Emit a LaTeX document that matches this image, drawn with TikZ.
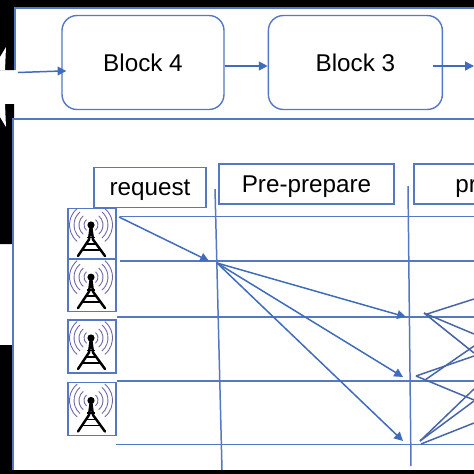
\documentclass[tikz,border=0pt]{standalone}
\usepackage{fontspec}
\setmainfont{Liberation Sans}
\usetikzlibrary{arrows.meta, positioning}
\definecolor{lineblue}{HTML}{5478C4}
\definecolor{tipblue}{HTML}{3F6CBC}
\definecolor{wavepurple}{HTML}{6F66A8}

\tikzset{
    radiotower/.pic={
        \fill[black] (-1,-8.5) circle (3.6);
        \draw[black, line width=1.4pt, line cap=round] (-1,-8.5) -- (-3,6) -- (-14,22.5);
        \draw[black, line width=1.4pt, line cap=round] (-1,-8.5) -- (1,6) -- (13,22.5);
        \draw[black, line width=1.1pt] (-5,4) -- (3,4);
        \draw[black, line width=1.1pt] (-7,10.5) -- (5,10.5);
        \draw[black, line width=1.1pt] (-10,16.5) -- (8,16.5);
        \draw[wavepurple, line width=0.5pt] (-1,-8.5) ++(130:7) arc[start angle=130, end angle=230, radius=7];
        \draw[wavepurple, line width=0.5pt] (-1,-8.5) ++(130:12) arc[start angle=130, end angle=230, radius=12];
        \draw[wavepurple, line width=0.5pt] (-1,-8.5) ++(130:17) arc[start angle=130, end angle=230, radius=17];
        \draw[wavepurple, line width=0.5pt] (-1,-8.5) ++(130:21.5) arc[start angle=130, end angle=230, radius=21.5];
        \draw[wavepurple, line width=0.5pt] (-1,-8.5) ++(50:7) arc[start angle=50, end angle=-50, radius=7];
        \draw[wavepurple, line width=0.5pt] (-1,-8.5) ++(50:12) arc[start angle=50, end angle=-50, radius=12];
        \draw[wavepurple, line width=0.5pt] (-1,-8.5) ++(50:17) arc[start angle=50, end angle=-50, radius=17];
        \draw[wavepurple, line width=0.5pt] (-1,-8.5) ++(50:21.5) arc[start angle=50, end angle=-50, radius=21.5];
    }
}

\begin{document}
\begin{tikzpicture}[
    x=0.02cm, y=-0.02cm,
    block/.style={rectangle, draw=lineblue, line width=0.8pt, rounded corners=0.3cm, minimum height=1.88cm, align=center, font=\fontsize{13.8}{16}\selectfont},
    phase/.style={rectangle, draw=lineblue, line width=0.8pt, minimum height=0.8cm, text height=9.5pt, text depth=0pt, font=\fontsize{13.8}{16}\selectfont},
    station/.style={rectangle, draw=lineblue, line width=0.8pt, minimum width=0.96cm, minimum height=1.04cm},
    timeline/.style={lineblue, line width=0.85pt},
    msg/.style={-{Triangle[length=5pt, width=5pt]}, draw=lineblue!85!black, line width=0.85pt, tipblue},
    vote/.style={draw=lineblue!85!black, line width=0.85pt}
]
    \clip (0,0) rectangle (474,474);
    \fill[white] (0,0) rectangle (474,474);

    % black border left over around the frame
    \fill[black] (0,0) -- (474,0) -- (474,7) -- (14,7) -- (14,70) -- (0,70) -- cycle;
    \fill[black] (0,104) -- (14,104) -- (14,119) -- (13,119) -- (13,244) -- (0,244) -- cycle;
    \fill[black] (0,345) -- (13,345) -- (13,470) -- (474,470) -- (474,474) -- (0,474) -- cycle;
    \fill[white] (0,57) -- (6,47) -- (5,70) -- (0,70) -- cycle;
    \fill[white] (0,104) -- (5,104) -- (6,127) -- (0,117) -- cycle;
    \draw[timeline] (15,70) -- (15,8) -- (474,8);
    \draw[timeline] (13,470) -- (13,119) -- (474,119);

    % blocks
    \node[block, minimum width=3.24cm] (block4) at (143,62.5) {Block 4};
    \node[block, minimum width=3.48cm, right=0.86cm of block4] (block3) {Block 3};
    \coordinate (chainin) at (18,72.5);
    \coordinate (chainout) at (433,66);
    \coordinate (chainend) at (474,66);
    \draw[msg] (chainin) -- (block4.west |- 0,71) -- ++(5,0);
    \draw[msg] (block4.east |- 0,66) -- (block3.west |- 0,66);
    \draw[msg] (chainout) -- (chainend);

    % phases
    \node[phase, minimum width=2.24cm] (request) at (150,187.5) {request};
    \node[phase, minimum width=3.5cm] (preprepare) at (306.5,184) {Pre-prepare};
    \node[phase, minimum width=3cm] (prepare) at (489,184) {};
    \node[font=\fontsize{13.8}{16}\selectfont, anchor=base west, inner sep=0pt] (preparetext) at (455,192.7) {prepare};

    % stations
    \node[station, minimum height=0.99cm] (tower1) at (92,233.5) {};
    \node[station, below=0cm of tower1] (tower2) {};
    \node[station, minimum height=1.06cm] (tower3) at (92,346.5) {};
    \node[station, minimum height=1.05cm] (tower4) at (92,409) {};
    \pic at (tower1) {radiotower};
    \pic at (tower2) {radiotower};
    \pic at (tower3) {radiotower};
    \pic at (tower4) {radiotower};

    % time lines
    \coordinate (line1) at (120,216.5);
    \coordinate (line2) at (120,261);
    \coordinate (line3) at (117,317);
    \coordinate (line4) at (117,381);
    \coordinate (line5) at (116,444.5);
    \coordinate (line1end) at (474,216.5);
    \coordinate (line2end) at (474,261);
    \coordinate (line3end) at (474,317);
    \coordinate (line4end) at (474,381);
    \coordinate (line5end) at (474,444.5);
    \draw[timeline] (line1) -- (line1end);
    \draw[timeline] (line2) -- (line2end);
    \draw[timeline] (line3) -- (line3end);
    \draw[timeline] (line4) -- (line4end);
    \draw[timeline] (line5) -- (line5end);

    % phase borders
    \coordinate (border1) at (215,189);
    \coordinate (border1end) at (222,470);
    \coordinate (border2) at (408,186);
    \coordinate (border2end) at (411,466);
    \draw[timeline] (border1) -- (border1end);
    \draw[timeline] (border2) -- (border2end);

    % request and pre-prepare messages
    \coordinate (reqstart) at (119,217);
    \coordinate (reqtip) at (209,261);
    \coordinate (prestart) at (217,263);
    \coordinate (pretip1) at (406,317);
    \coordinate (pretip2) at (403,377);
    \coordinate (pretip3) at (403,441);
    \draw[msg] (reqstart) -- (reqtip);
    \draw[msg] (prestart) -- (pretip1);
    \draw[msg] (prestart) -- (pretip2);
    \draw[msg] (prestart) -- (pretip3);

    % prepare messages
    \coordinate (voteA) at (424,313);
    \coordinate (voteAa) at (427,314);
    \coordinate (voteB) at (416,376);
    \coordinate (voteBb) at (425,380);
    \coordinate (voteC) at (420,441);
    \coordinate (voteCc) at (421,444);
    \coordinate (endA1) at (474,299);
    \coordinate (endA2) at (474,334);
    \coordinate (endA3) at (474,353);
    \coordinate (endB1) at (474,356);
    \coordinate (endB2) at (474,400);
    \coordinate (endB3) at (474,346);
    \coordinate (endC1) at (474,389);
    \coordinate (endC2) at (474,401);
    \coordinate (endC3) at (474,423);
    \draw[vote] (voteAa) -- (endA1);
    \draw[vote] (voteA) -- (endA2);
    \draw[vote] (voteA) -- (endA3);
    \draw[vote] (voteB) -- (endB1);
    \draw[vote] (voteB) -- (endB2);
    \draw[vote] (voteBb) -- (endB3);
    \draw[vote] (voteC) -- (endC1);
    \draw[vote] (voteC) -- (endC2);
    \draw[vote] (voteCc) -- (endC3);
\end{tikzpicture}
\end{document}
